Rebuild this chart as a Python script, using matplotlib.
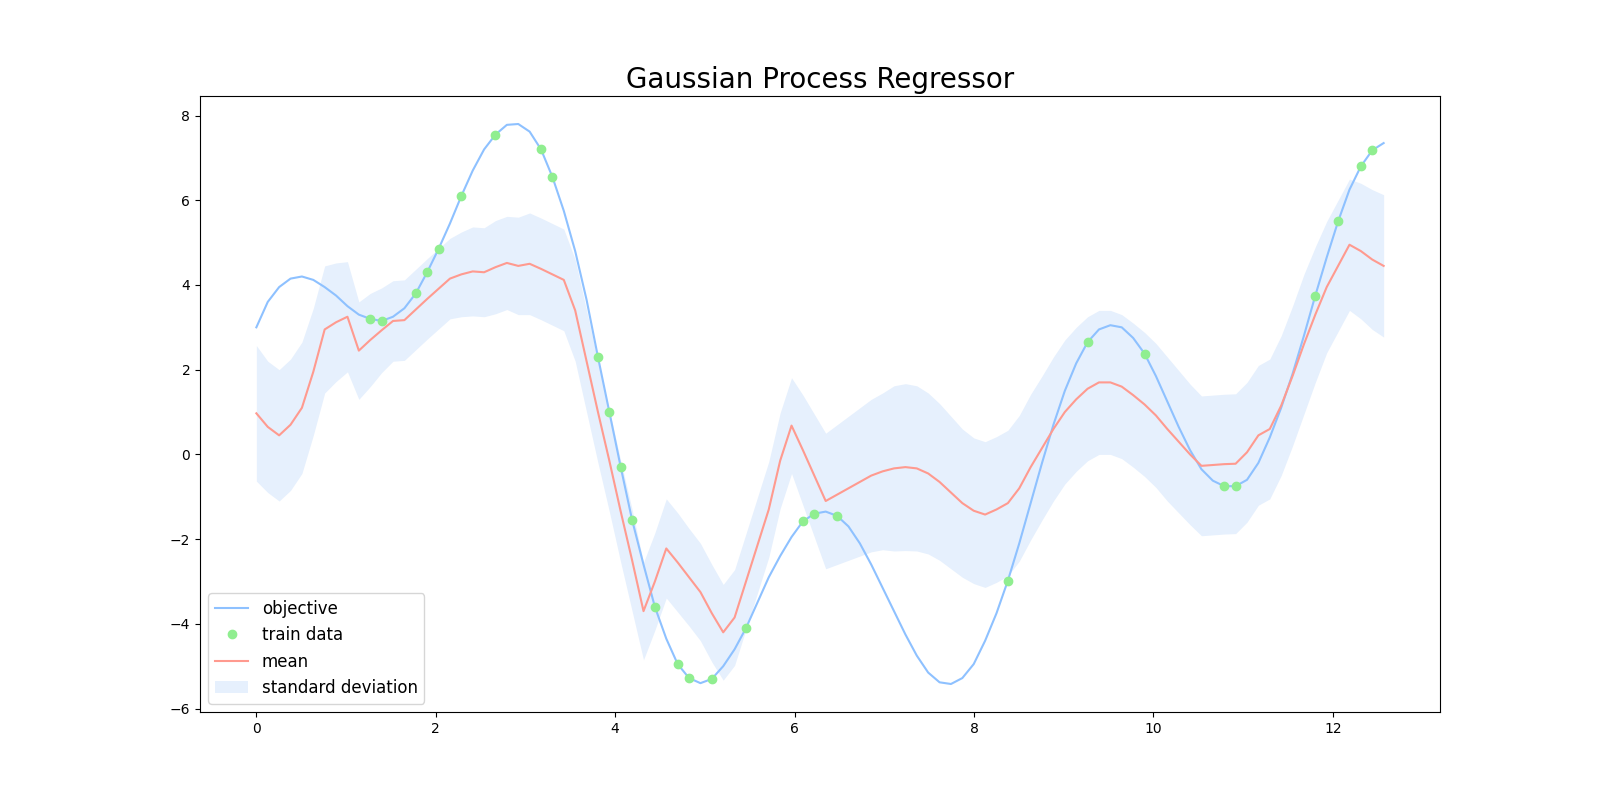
import numpy as np
import matplotlib
matplotlib.use("Agg")
import matplotlib.pyplot as plt

x = np.linspace(0, 4 * np.pi, 100)

objective = [
    3.0, 3.6, 3.95, 4.15, 4.2, 4.12, 3.95, 3.75, 3.5, 3.3,
    3.2, 3.15, 3.25, 3.45, 3.8, 4.3, 4.85, 5.45, 6.1, 6.7,
    7.2, 7.55, 7.78, 7.8, 7.62, 7.2, 6.55, 5.75, 4.8, 3.65,
    2.3, 1.0, -0.3, -1.55, -2.6, -3.6, -4.35, -4.95, -5.28, -5.4,
    -5.3, -5.0, -4.6, -4.1, -3.5, -2.9, -2.4, -1.95, -1.58, -1.4,
    -1.35, -1.45, -1.7, -2.1, -2.6, -3.15, -3.7, -4.25, -4.75, -5.15,
    -5.38, -5.42, -5.28, -4.95, -4.4, -3.75, -2.98, -2.1, -1.15, -0.2,
    0.7, 1.5, 2.15, 2.65, 2.95, 3.05, 3.0, 2.75, 2.38, 1.85,
    1.25, 0.65, 0.1, -0.35, -0.62, -0.75, -0.75, -0.6, -0.2, 0.4,
    1.1, 1.9, 2.8, 3.75, 4.65, 5.5, 6.25, 6.8, 7.18, 7.35,
]

train_idx = [10, 11, 14, 15, 16, 18, 21, 25, 26, 30, 31, 32, 33, 35, 37,
             38, 40, 43, 48, 49, 51, 66, 73, 78, 85, 86, 93, 95, 97, 98]

mean = [
    0.97, 0.65, 0.45, 0.7, 1.1, 1.95, 2.95, 3.12, 3.25, 2.45,
    2.7, 2.93, 3.15, 3.17, 3.42, 3.67, 3.91, 4.15, 4.25, 4.32,
    4.3, 4.42, 4.52, 4.45, 4.5, 4.38, 4.25, 4.12, 3.4, 2.2,
    1.0, -0.15, -1.35, -2.5, -3.7, -3.0, -2.22, -2.55, -2.9, -3.25,
    -3.75, -4.2, -3.85, -3.0, -2.15, -1.3, -0.15, 0.68, 0.1, -0.5,
    -1.1, -0.95, -0.8, -0.65, -0.5, -0.4, -0.33, -0.3, -0.33, -0.45,
    -0.65, -0.9, -1.15, -1.33, -1.42, -1.3, -1.15, -0.8, -0.3, 0.15,
    0.6, 1.0, 1.3, 1.55, 1.7, 1.7, 1.6, 1.4, 1.18, 0.92,
    0.6, 0.3, 0.0, -0.27, -0.25, -0.23, -0.22, 0.05, 0.45, 0.6,
    1.15, 1.85, 2.6, 3.3, 3.95, 4.45, 4.95, 4.8, 4.6, 4.45,
]

std = [
    1.6, 1.55, 1.55, 1.55, 1.55, 1.5, 1.5, 1.4, 1.3, 1.15,
    1.1, 1.0, 0.95, 0.95, 0.95, 0.95, 0.95, 0.95, 1.0, 1.05,
    1.05, 1.1, 1.1, 1.15, 1.2, 1.2, 1.2, 1.2, 1.2, 1.2,
    1.2, 1.2, 1.2, 1.2, 1.15, 1.15, 1.17, 1.17, 1.15, 1.15,
    1.15, 1.13, 1.13, 1.13, 1.13, 1.13, 1.13, 1.13, 1.3, 1.45,
    1.6, 1.65, 1.7, 1.75, 1.8, 1.85, 1.95, 1.97, 1.95, 1.9,
    1.85, 1.8, 1.75, 1.72, 1.72, 1.72, 1.72, 1.72, 1.72, 1.7,
    1.7, 1.7, 1.7, 1.7, 1.7, 1.7, 1.7, 1.7, 1.7, 1.7,
    1.7, 1.68, 1.66, 1.65, 1.65, 1.65, 1.65, 1.65, 1.65, 1.65,
    1.65, 1.65, 1.65, 1.6, 1.55, 1.55, 1.55, 1.6, 1.65, 1.68,
]

objective = np.array(objective)
mean = np.array(mean)
std = np.array(std)

fig, ax = plt.subplots(figsize=(16, 8), dpi=100)

ax.plot(x, objective, color='#8ec1ff', label='objective')
ax.plot(x[train_idx], objective[train_idx], 'o', color='#90ee90', label='train data')
ax.plot(x, mean, color='#ff9a8f', label='mean')
ax.fill_between(x, mean - std, mean + std, color='#e6f0fd', linewidth=0,
                label='standard deviation')

ax.set_title('Gaussian Process Regressor', fontsize=20)
ax.legend(loc='lower left', fontsize=12)

fig.savefig('out.png')
